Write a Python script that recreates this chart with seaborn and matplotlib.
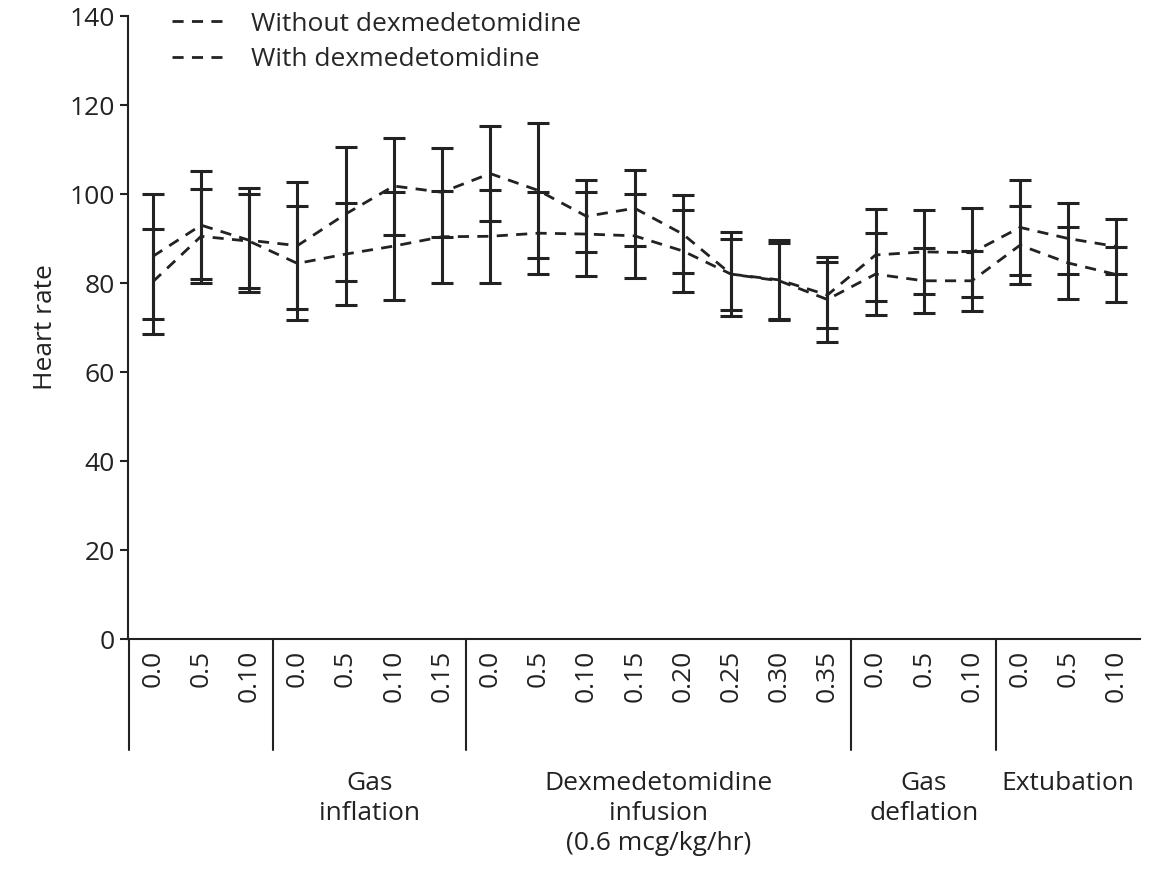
import numpy as np
import pandas as pd
import matplotlib
matplotlib.use("Agg")
import matplotlib.pyplot as plt
import matplotlib.transforms as mtransforms
import seaborn as sns

tick_labels = ["0.0", "0.5", "0.10",
               "0.0", "0.5", "0.10", "0.15",
               "0.0", "0.5", "0.10", "0.15", "0.20", "0.25", "0.30", "0.35",
               "0.0", "0.5", "0.10",
               "0.0", "0.5", "0.10"]
group_names = ["", "Gas\ninflation", "Dexmedetomidine\ninfusion\n(0.6 mcg/kg/hr)",
               "Gas\ndeflation", "Extubation"]
group_sizes = [3, 4, 8, 3, 3]

without_mean = [86.0, 93.0, 89.6, 88.4, 95.5, 101.8, 100.4, 104.6, 100.8, 95.0, 96.8,
                91.0, 82.0, 80.7, 77.3, 86.3, 87.0, 86.8, 92.5, 90.0, 88.2]
without_err = [14.0, 12.1, 11.7, 14.3, 15.0, 10.9, 10.0, 10.6, 15.2, 8.1, 8.5,
               8.8, 9.5, 9.0, 7.5, 10.4, 9.5, 10.0, 10.6, 7.9, 6.2]
with_mean = [80.3, 90.5, 89.4, 84.4, 86.5, 88.3, 90.4, 90.5, 91.2, 91.0, 90.6,
             87.2, 82.0, 80.5, 76.3, 82.0, 80.5, 80.5, 88.5, 84.5, 81.9]
with_err = [11.8, 10.6, 10.6, 12.8, 11.4, 12.1, 10.3, 10.4, 9.2, 9.4, 9.4,
            9.3, 8.0, 8.5, 9.6, 9.2, 7.3, 6.7, 8.8, 8.0, 6.2]

x = np.arange(len(tick_labels))
df = pd.DataFrame({
    "x": np.concatenate([x, x]),
    "hr": without_mean + with_mean,
    "group": ["Without dexmedetomidine"] * len(x) + ["With dexmedetomidine"] * len(x),
})

sns.set_style("ticks")
plt.rcParams["font.family"] = ["Open Sans", "DejaVu Sans"]
fs = 19

fig = plt.figure(figsize=(11.52, 8.9), dpi=100)
ax = fig.add_axes([0.111, 0.282, 0.879, 0.700])

sns.lineplot(data=df, x="x", y="hr", hue="group", palette=["#222222", "#222222"],
             linewidth=2, ax=ax)
for line in ax.lines:
    line.set_linestyle((0, (4, 3)))

ax.errorbar(x, without_mean, yerr=without_err, fmt="none", ecolor="#222222",
            elinewidth=2.2, capsize=8, capthick=2.2)
ax.errorbar(x, with_mean, yerr=with_err, fmt="none", ecolor="#222222",
            elinewidth=2.2, capsize=8, capthick=2.2)

ax.set_xlim(-0.52, 20.5)
ax.set_ylim(0, 140)
ax.set_yticks(range(0, 141, 20))
ax.set_xticks(x)
ax.set_xticklabels(tick_labels, rotation=90, fontsize=fs)
ax.tick_params(axis="x", length=0, pad=8, colors="#222222")
ax.tick_params(axis="y", labelsize=fs, length=6, width=1.5, colors="#222222")
ax.set_xlabel("")
ax.set_ylabel("Heart rate", fontsize=fs, color="#222222", labelpad=8)
sns.despine(ax=ax)
for s in ["left", "bottom"]:
    ax.spines[s].set_linewidth(1.5)
    ax.spines[s].set_color("#222222")

trans = mtransforms.blended_transform_factory(ax.transData, ax.transAxes)
bounds = [-0.5]
for n in group_sizes:
    bounds.append(bounds[-1] + n)
for b in bounds[:-1]:
    ax.plot([b, b], [0, -0.178], transform=trans, color="#222222", lw=1.5, clip_on=False)
for i, name in enumerate(group_names):
    c = (bounds[i] + bounds[i + 1]) / 2
    ax.text(c, -0.212, name, transform=trans, ha="center", va="top", fontsize=fs,
            color="#222222", linespacing=1.25)

ax.legend(loc="upper left", bbox_to_anchor=(0.02, 1.045), frameon=False,
          fontsize=fs, handlelength=2.2, labelspacing=0.4)

fig.savefig("out.png", dpi=100)
